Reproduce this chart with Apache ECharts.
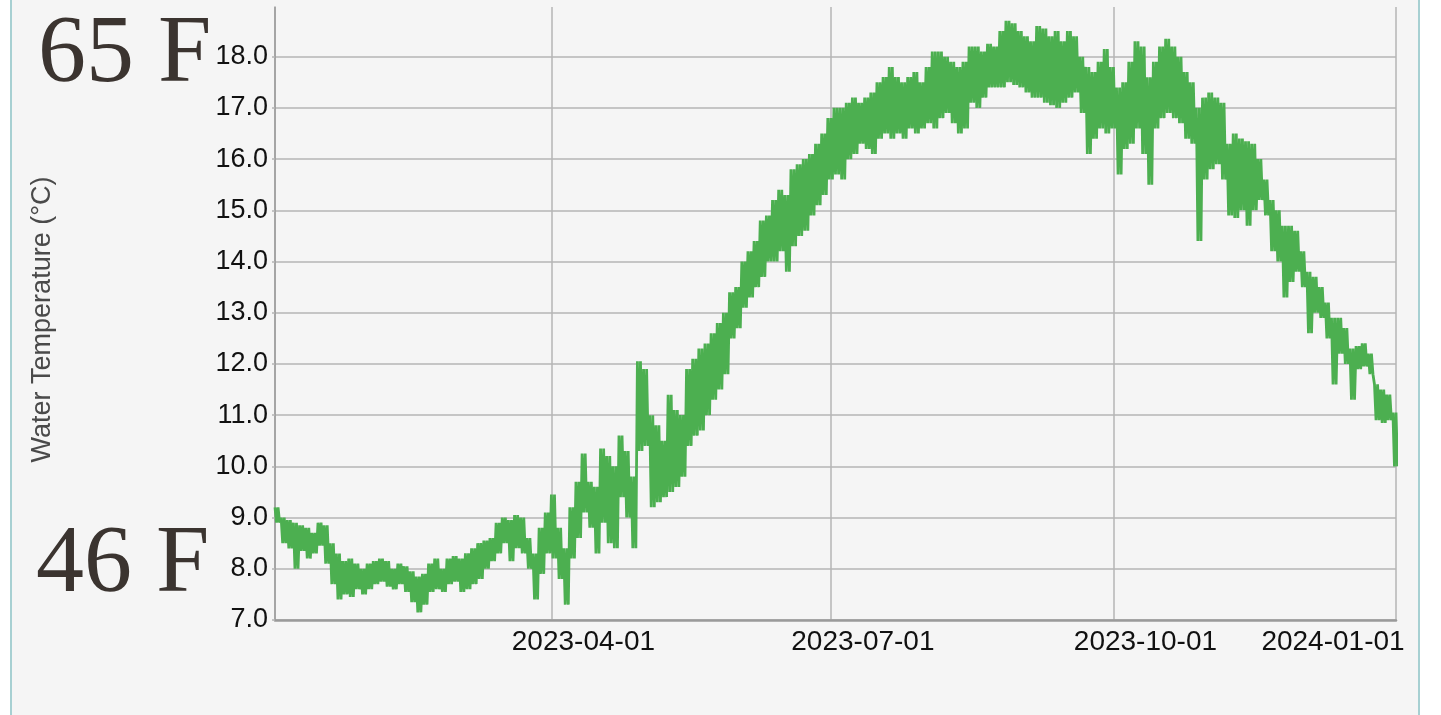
<!DOCTYPE html>
<html><head><meta charset="utf-8">
<script src="https://cdn.jsdelivr.net/npm/echarts@6/dist/echarts.min.js"></script>
<style>
html,body{margin:0;padding:0;background:#fff;width:1441px;height:715px;overflow:hidden}
#frame{position:absolute;left:10px;top:0;width:1406px;height:715px;background:#f5f5f5;border-left:2px solid #a7d0d2;border-right:2px solid #a7d0d2}
#chart{position:absolute;left:0;top:0;width:1441px;height:715px}
</style></head><body>
<div id="frame"></div><div id="chart"></div>
<script>
// ---- data ----
const startDate = '2023-01-01';
const stepDays = 2; // one daily-range (high/low) reading every 2 days
const highs = [
9.2,9.0,8.95,8.9,8.85,8.8,8.7,8.9,8.85,8.5,
8.3,8.15,8.2,8.1,8.0,8.1,8.15,8.2,8.15,8.0,
8.1,8.05,7.95,7.85,7.9,8.1,8.2,8.0,8.2,8.25,
8.2,8.3,8.4,8.5,8.55,8.6,8.9,9.0,8.95,9.05,
9.0,8.6,8.3,8.8,9.1,9.45,8.8,8.4,9.2,9.7,
10.25,9.7,9.6,10.35,10.2,10.0,10.6,10.3,9.8,12.05,
11.9,11.0,10.8,10.5,11.4,11.1,11.0,11.9,12.1,12.3,
12.4,12.6,12.8,13.0,13.4,13.5,14.0,14.2,14.4,14.8,
14.9,15.2,15.4,15.3,15.8,15.9,16.0,16.1,16.3,16.5,
16.8,17.0,17.0,17.1,17.2,17.1,17.2,17.3,17.5,17.6,
17.8,17.6,17.5,17.6,17.7,17.5,17.8,18.1,18.1,18.0,
17.9,17.8,17.9,18.2,18.2,18.1,18.25,18.2,18.5,18.7,
18.65,18.5,18.4,18.3,18.6,18.55,18.4,18.5,18.3,18.5,
18.4,18.0,17.8,17.7,17.9,18.15,17.8,17.4,17.5,17.9,
18.3,18.2,17.6,17.9,18.2,18.35,18.2,18.0,17.7,17.5,
17.0,17.2,17.3,17.2,17.1,16.3,16.5,16.4,16.35,16.3,
16.0,15.6,15.2,15.0,14.7,14.7,14.6,14.2,13.8,13.7,
13.5,13.2,12.9,12.9,12.7,12.3,12.35,12.4,12.2,11.6,
11.5,11.4,11.05
];
const lows = [
8.9,8.5,8.4,8.0,8.35,8.2,8.3,8.45,8.1,7.7,
7.4,7.5,7.45,7.6,7.5,7.6,7.7,7.75,7.65,7.6,
7.7,7.55,7.35,7.15,7.3,7.55,7.6,7.55,7.7,7.75,
7.55,7.6,7.7,7.8,8.0,8.15,8.3,8.5,8.15,8.4,
8.3,8.0,7.4,7.9,8.3,8.2,7.8,7.3,8.2,8.6,
9.1,8.8,8.3,8.9,8.5,8.4,9.4,9.0,8.4,10.3,
10.4,9.2,9.3,9.4,9.5,9.6,9.8,10.4,10.6,10.7,
11.0,11.3,11.5,11.8,12.5,12.7,13.1,13.3,13.5,13.7,
14.0,14.0,14.2,13.8,14.3,14.5,14.6,14.9,15.1,15.3,
15.6,15.7,15.6,16.0,16.1,16.3,16.2,16.1,16.4,16.5,
16.4,16.5,16.4,16.6,16.5,16.6,16.7,16.6,16.8,16.9,
16.7,16.5,16.6,17.1,17.0,17.2,17.4,17.4,17.4,17.5,
17.45,17.4,17.3,17.2,17.2,17.1,17.05,17.0,17.1,17.2,
17.3,16.9,16.1,16.4,16.6,16.5,16.6,15.7,16.2,16.3,
16.6,16.1,15.5,16.6,16.8,16.9,16.8,16.7,16.4,16.3,
14.4,15.6,15.8,15.9,15.6,14.9,14.85,15.0,14.7,15.0,
15.2,14.9,14.2,14.0,13.3,13.6,13.8,13.5,12.6,13.0,
12.9,12.5,11.6,12.2,12.0,11.3,11.9,11.95,11.8,10.9,
10.85,10.9,10.0
];
const xTickDates = ['2023-01-01','2023-04-01','2023-07-01','2023-10-01','2024-01-01'];
const xLabelDates = ['2023-04-01','2023-07-01','2023-10-01','2024-01-01'];
const yTickValues = [7,8,9,10,11,12,13,14,15,16,17,18];
const yName = 'Water Temperature (°C)';
const noteTop = '65 F';
const noteBottom = '46 F';

// ---- helpers ----
const DAY = 86400000;
function toTs(s){const p=s.split('-').map(Number);return new Date(p[0],p[1]-1,p[2]).getTime();}
function fmt(v){const d=new Date(v);const m=d.getMonth()+1,dd=d.getDate();return d.getFullYear()+'-'+(m<10?'0':'')+m+'-'+(dd<10?'0':'')+dd;}
const t0 = toTs(startDate);
// each 2-day block swings between its read high and low (daily cycle), drawn as a dense zig-zag
const seriesData = [];
for (let i=0;i<highs.length;i++){
  const t = t0 + i*stepDays*DAY;
  seriesData.push([t, highs[i]]);
  seriesData.push([t + 0.5*DAY, lows[i]]);
  seriesData.push([t + 1.0*DAY, highs[i]]);
  seriesData.push([t + 1.5*DAY, lows[i]]);
}
const lastLabel = xLabelDates[xLabelDates.length-1];
const FONT = '"Liberation Sans", Arial, Helvetica, sans-serif';

const chart = echarts.init(document.getElementById('chart'), null, {renderer:'canvas'});
chart.setOption({
  animation:false,
  backgroundColor:'transparent',
  grid:{left:275,right:45,top:7,bottom:95,containLabel:false},
  xAxis:{
    type:'value',
    min:toTs(xTickDates[0]),
    max:toTs(xTickDates[xTickDates.length-1]),
    axisLine:{show:true,lineStyle:{color:'#9a9a9a',width:2.5}},
    axisTick:{show:false,customValues:xTickDates.map(toTs)},
    splitLine:{show:true,lineStyle:{color:'#b4b4b4',width:1.5}},
    axisLabel:{
      customValues:xLabelDates.map(toTs),
      margin:8,
      color:'#111',
      fontSize:28,
      fontFamily:FONT,
      formatter:function(v){const s=fmt(v);return s===lastLabel?'{b|'+s+'}':'{a|'+s+'}';},
      rich:{
        a:{padding:[0,0,0,64],fontSize:28,fontFamily:FONT,color:'#111'},
        b:{padding:[0,126,0,0],fontSize:28,fontFamily:FONT,color:'#111'}
      }
    }
  },
  yAxis:{
    type:'value',
    min:7,
    max:18.97,
    name:yName,
    nameLocation:'middle',
    nameGap:219,
    nameTextStyle:{fontSize:27,color:'#4a4a4a',fontFamily:FONT,padding:[0,12,0,0]},
    axisLine:{show:true,lineStyle:{color:'#9a9a9a',width:1.5}},
    axisTick:{show:true,length:3,customValues:yTickValues,lineStyle:{color:'#b4b4b4',width:1.5}},
    splitLine:{show:true,lineStyle:{color:'#b4b4b4',width:1.5}},
    axisLabel:{
      customValues:yTickValues,
      margin:7,
      color:'#111',
      fontSize:27,
      fontFamily:FONT,
      formatter:function(v){return v.toFixed(1);}
    }
  },
  series:[{
    type:'line',
    data:seriesData,
    showSymbol:false,
    symbol:'none',
    sampling:null,
    lineStyle:{color:'#4caf50',width:2.8},
    clip:true
  }],
  graphic:[
    {type:'text',left:38,top:8,style:{text:noteTop,font:'96px "Liberation Serif", "Times New Roman", serif',fill:'#3b3430'}},
    {type:'text',left:36,top:518,style:{text:noteBottom,font:'96px "Liberation Serif", "Times New Roman", serif',fill:'#3b3430'}}
  ]
});
</script>
</body></html>
